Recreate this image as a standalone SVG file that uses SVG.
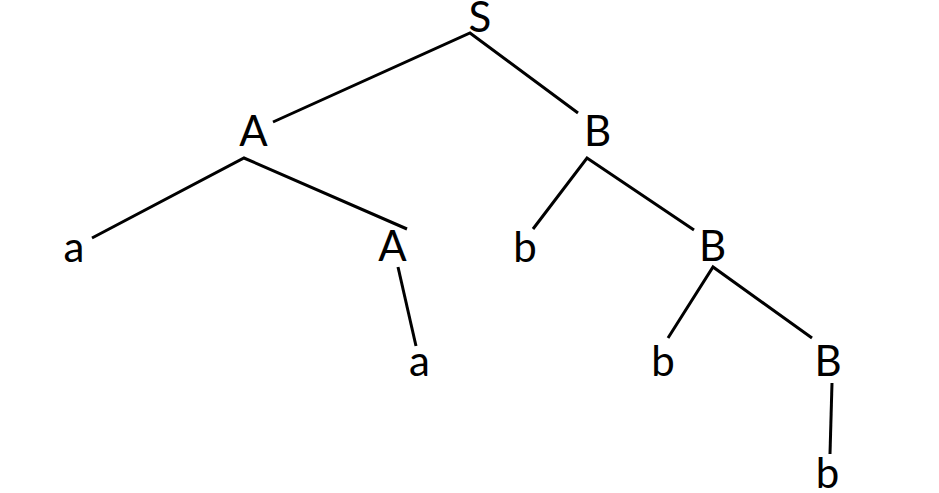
<svg xmlns="http://www.w3.org/2000/svg" width="939" height="493" viewBox="0 0 939 493">
<style>
.lbl{font-family:Lato,"Open Sans","Liberation Sans",sans-serif;font-size:42px;fill:#000;text-anchor:middle}
.edge{stroke:#000;stroke-width:3;fill:none;stroke-linecap:butt;stroke-linejoin:miter}
</style>
<rect width="939" height="493" fill="#fff"/>
<g id="connectors">
<path class="edge" d="M273,122 L470,33 L578,113"/>
<path class="edge" d="M92,238 L244,158 L407,229"/>
<line class="edge" x1="398" y1="267" x2="416" y2="346"/>
<path class="edge" d="M533,229 L587,158 L694,230"/>
<path class="edge" d="M668,338 L713,267 L812,338"/>
<line class="edge" x1="832" y1="383" x2="830" y2="454"/>
</g>
<g id="n-S"><text class="lbl" x="480" y="32">S</text></g>
<g id="n-A1"><text class="lbl" x="253.5" y="146">A</text></g>
<g id="n-B1"><text class="lbl" x="597.5" y="146">B</text></g>
<g id="n-a1"><text class="lbl" x="74" y="262">a</text></g>
<g id="n-A2"><text class="lbl" x="392.5" y="261">A</text></g>
<g id="n-b1"><text class="lbl" x="525" y="262">b</text></g>
<g id="n-B2"><text class="lbl" x="712.5" y="261">B</text></g>
<g id="n-a2"><text class="lbl" x="419.5" y="376">a</text></g>
<g id="n-b2"><text class="lbl" x="663" y="376">b</text></g>
<g id="n-B3"><text class="lbl" x="828" y="376">B</text></g>
<g id="n-b3"><text class="lbl" x="827.5" y="488">b</text></g>
</svg>
